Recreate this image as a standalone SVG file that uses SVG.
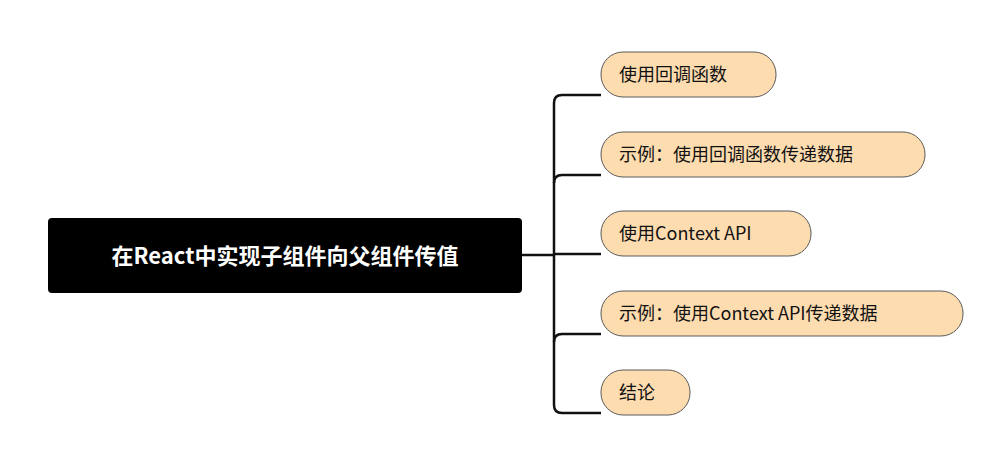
<svg xmlns="http://www.w3.org/2000/svg" width="1006" height="476" viewBox="0 0 1006 476">
<style>
.c{fill:#fddcb0;stroke:#5a5a5a;stroke-width:1}
.t{font-family:"Noto Sans CJK SC",sans-serif;font-size:18px;fill:#111}
.ln{fill:none;stroke:#111;stroke-width:2.5}
</style>
<rect width="1006" height="476" fill="#fff"/>
<g id="connectors">
<path class="ln" d="M522 255 H554"/>
<path class="ln" d="M601 95 H562 Q554 95 554 103 V405 Q554 413 562 413 H601"/>
<path class="ln" d="M554 183 Q554 175 562 175 H601"/>
<path class="ln" d="M554 254 H601"/>
<path class="ln" d="M554 342 Q554 334 562 334 H601"/>
</g>
<g id="root"><rect x="48" y="218" width="474" height="75" rx="4" fill="#000"/>
<text x="285" y="264" text-anchor="middle" font-family="Noto Sans CJK SC,sans-serif" font-size="22" font-weight="bold" fill="#fff">在React中实现子组件向父组件传值</text></g>
<g id="n1"><rect class="c" x="601" y="52" width="175" height="45" rx="22"/><text class="t" x="619" y="81">使用回调函数</text></g>
<g id="n2"><rect class="c" x="601" y="132" width="324" height="45" rx="22"/><text class="t" x="619" y="161">示例：使用回调函数传递数据</text></g>
<g id="n3"><rect class="c" x="601" y="211" width="210" height="45" rx="22"/><text class="t" x="619" y="240">使用Context API</text></g>
<g id="n4"><rect class="c" x="601" y="291" width="362" height="45" rx="22"/><text class="t" x="619" y="320">示例：使用Context API传递数据</text></g>
<g id="n5"><rect class="c" x="601" y="370" width="89" height="45" rx="22"/><text class="t" x="619" y="399">结论</text></g>
</svg>
